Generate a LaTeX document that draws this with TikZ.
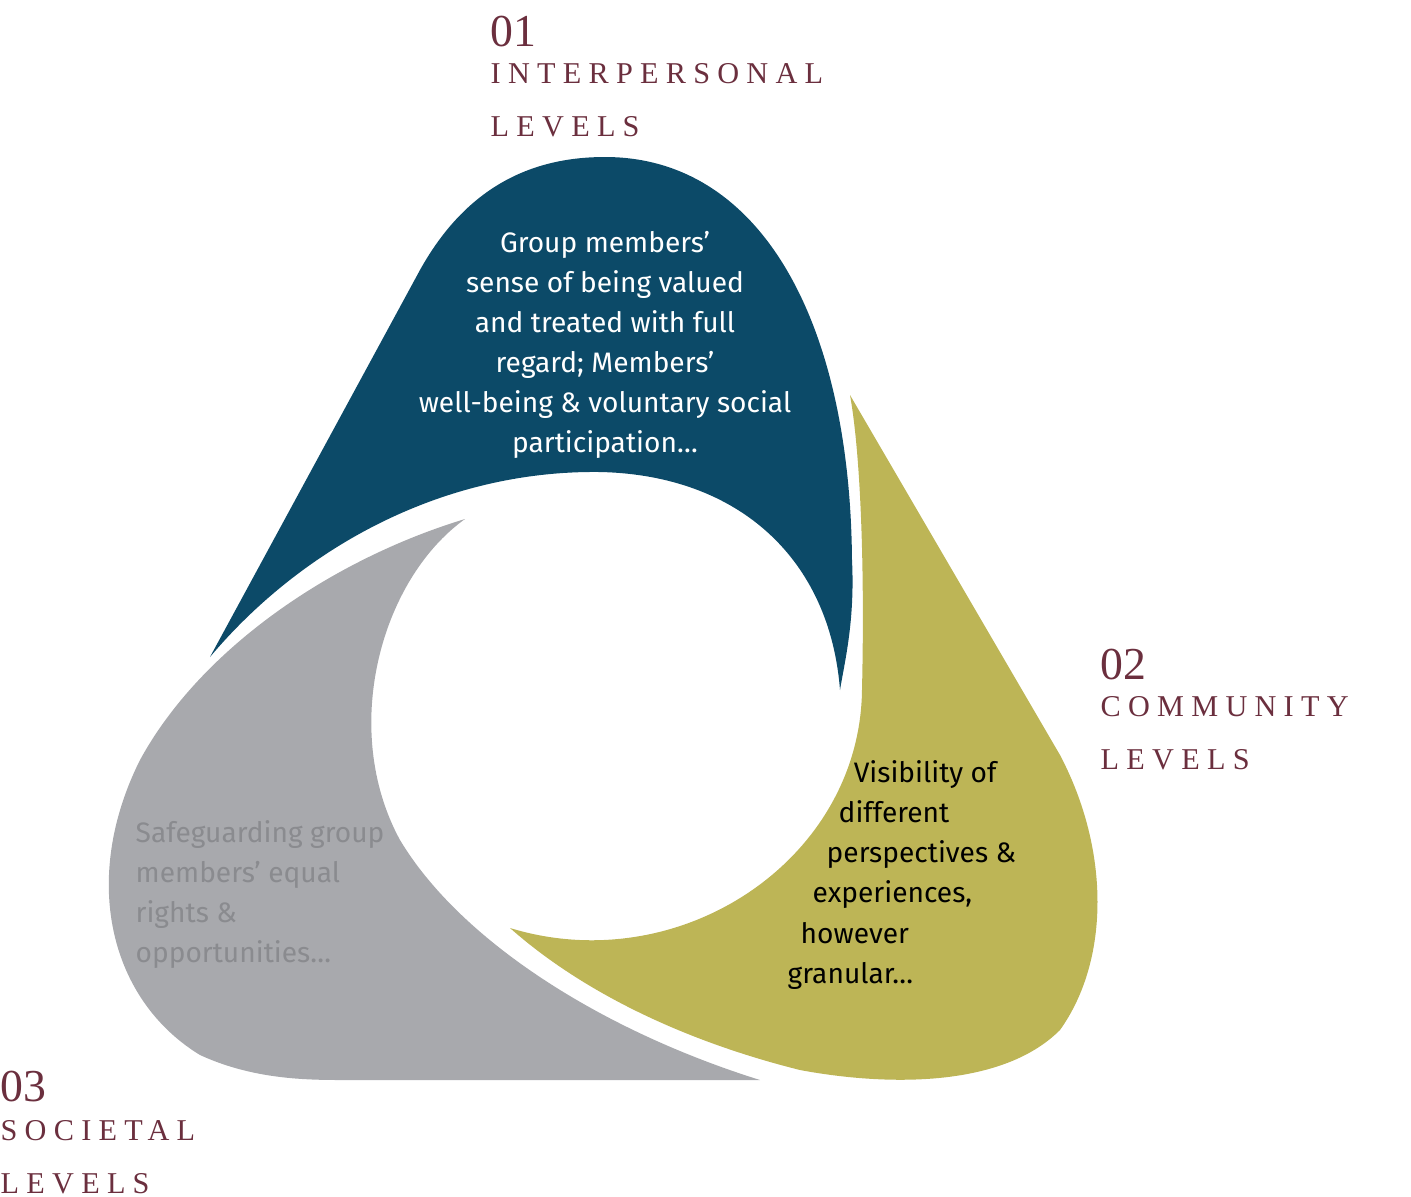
\documentclass[tikz,border=0pt]{standalone}
\usepackage{fontspec}
\setmainfont{Fira Sans}
\newfontfamily\lblfont[LetterSpace=24]{Liberation Serif}
\newfontfamily\numfont{Liberation Serif}
\definecolor{bladeblue}{HTML}{0C4A68}
\definecolor{bladeolive}{HTML}{BDB556}
\definecolor{bladegray}{HTML}{A8A9AD}
\definecolor{lblred}{HTML}{6B2F3E}
\definecolor{txtgray}{HTML}{8A8B8F}
\tikzset{
	level num/.style={anchor=north west, inner sep=0pt, text=lblred, font=\numfont\fontsize{13}{13}\selectfont},
	level name/.style={anchor=north west, inner sep=0pt, text=lblred, align=left, font=\lblfont\fontsize{8.6}{15}\selectfont},
	blade text/.style={inner sep=0pt, font=\fontsize{8}{11.4}\selectfont}
}
\begin{document}
\begin{tikzpicture}[x=0.01cm, y=-0.01cm]
				\useasboundingbox (0,0) rectangle (1411,1196);
				% blades
				\fill [bladeblue] (210,657) -- (420,270) .. controls (470,180) and (540,157) .. (605,157)
					.. controls (760,157) and (850,320) .. (852,560) .. controls (855,620) and (845,660) .. (840,690)
					.. controls (830,560) and (740,475) .. (600,472) .. controls (440,470) and (300,550) .. (210,657) -- cycle;
				\fill [bladeolive] (850,395) -- (1060,755) .. controls (1110,850) and (1110,960) .. (1060,1030)
					.. controls (1000,1090) and (880,1085) .. (800,1070) .. controls (680,1040) and (580,990) .. (510,928)
					.. controls (680,980) and (860,860) .. (862,690) .. controls (865,560) and (860,450) .. (850,395) -- cycle;
				\fill [bladegray] (465,519) .. controls (330,560) and (200,650) .. (140,760)
					.. controls (80,880) and (110,1000) .. (200,1055) .. controls (250,1078) and (300,1080) .. (340,1080)
					-- (760,1080) .. controls (600,1030) and (460,940) .. (400,840) .. controls (340,730) and (380,580) .. (465,519) -- cycle;
				% texts
				\node (interText) [blade text, text=white, align=center] at (605,345)
					{Group members'\\sense of being valued\\and treated with full\\regard; Members'\\well-being \& voluntary social\\participation\dots};
				\node (commText) [blade text, anchor=north west, align=left] at (787,760)
					{\hspace*{18.8pt}Visibility of\\\hspace*{14.5pt}different\\\hspace*{11.1pt}perspectives \&\\\hspace*{7.1pt}experiences,\\\hspace*{3.7pt}however\\granular\dots};
				\node (socText) [blade text, text=txtgray, anchor=north west, align=left] at (135,820)
					{Safeguarding group\\members' equal\\rights \&\\opportunities\dots};
				% labels
				\node (interNum) [level num] at (490,15) {01};
				\node (interName) [level name] at (490,63) {INTERPERSONAL\\LEVELS};
				\node (commNum) [level num] at (1100,648) {02};
				\node (commName) [level name] at (1100,696) {COMMUNITY\\LEVELS};
				\node (socNum) [level num] at (0,1070) {03};
				\node (socName) [level name] at (0,1120) {SOCIETAL\\LEVELS};
			\end{tikzpicture}
\end{document}
